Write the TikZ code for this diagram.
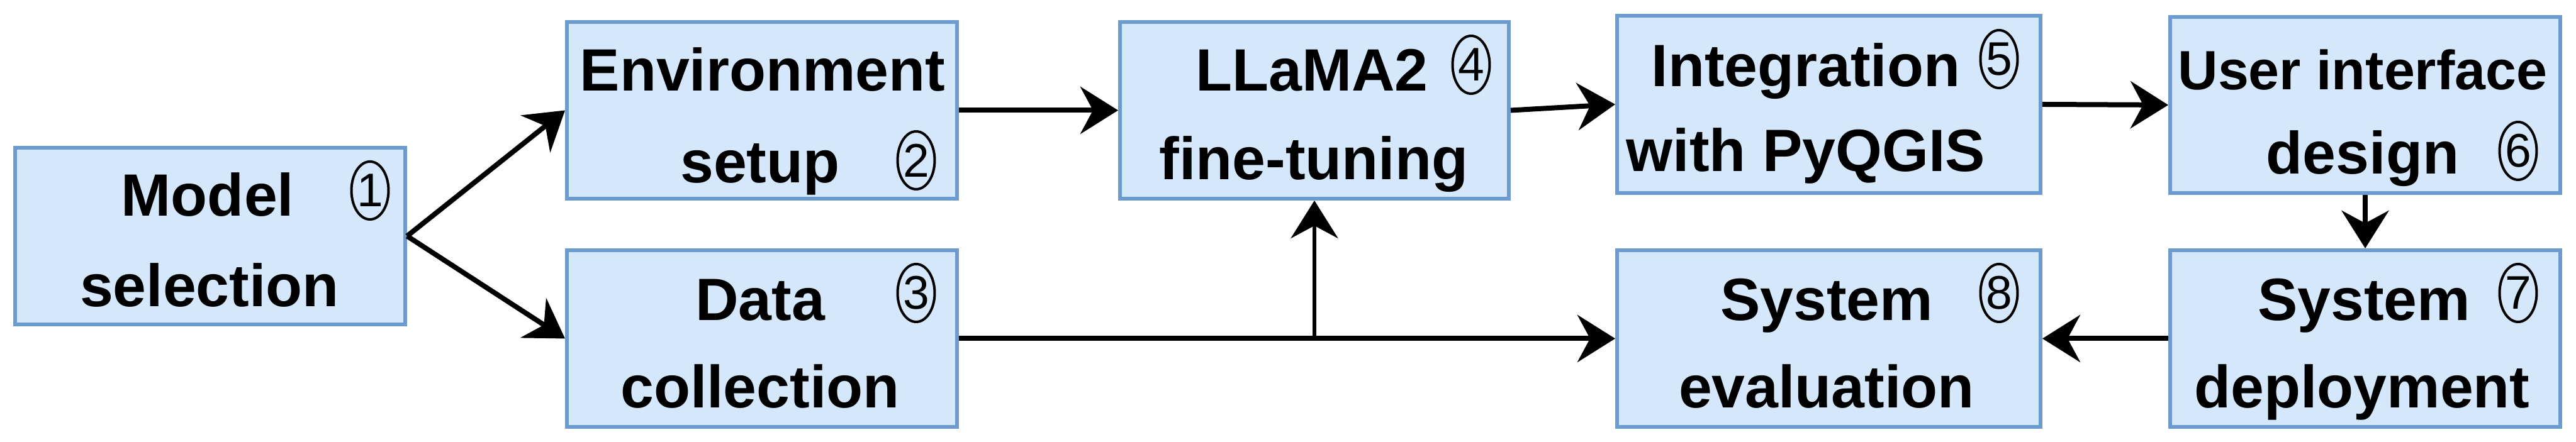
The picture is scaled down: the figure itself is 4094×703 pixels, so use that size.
\documentclass[tikz,border=0pt]{standalone}
\usepackage{fontspec}
\setmainfont{Liberation Sans}
\usetikzlibrary{shapes.geometric,arrows.meta}
\begin{document}
\begin{tikzpicture}[x=0.1pt,y=-0.1pt,
  box/.style={draw=boxline,fill=boxfill,line width=0.6pt,inner sep=0},
  lab/.style={font=\fontsize{9.5}{11}\selectfont\bfseries,anchor=mid,inner sep=0},
  num/.style={ellipse,draw,line width=0.4pt,minimum width=4.8pt,minimum height=9.2pt,inner sep=0,font=\fontsize{7.5}{8}\selectfont},
  arr/.style={line width=0.8pt,-{Stealth[length=6pt,width=7.5pt,inset=2pt]}}]
\definecolor{boxfill}{HTML}{D5E8FB}
\definecolor{boxline}{HTML}{6C9BCF}
\useasboundingbox (0,0) rectangle (4094,703);
% boxes
\node[box,minimum width=62pt,minimum height=28.1pt] (b1) at (334,375.5) {};
\node[box,minimum width=62pt,minimum height=28.1pt] (b2) at (1211,175.5) {};
\node[box,minimum width=62pt,minimum height=28.1pt] (b3) at (1211,538.5) {};
\node[box,minimum width=61.8pt,minimum height=28.1pt] (b4) at (2089,175.5) {};
\node[box,minimum width=67.3pt,minimum height=28.2pt] (b5) at (2906.5,166) {};
\node[box,minimum width=62pt,minimum height=28pt] (b6) at (3759,167) {};
\node[box,minimum width=62pt,minimum height=28.1pt] (b7) at (3759,538.5) {};
\node[box,minimum width=67.3pt,minimum height=28.1pt] (b8) at (2906.5,538.5) {};
% labels
\node[lab] (t1a) at (330,317) {Model};
\node[lab] (t1b) at (333,461) {selection};
\node[num] (n1) at (588,303) {1};
\node[lab] (t2a) at (1212,118) {Environment};
\node[lab] (t2b) at (1208,264) {setup};
\node[num] (n2) at (1456,255) {2};
\node[lab] (t3a) at (1208,483) {Data};
\node[lab] (t3b) at (1208,622) {collection};
\node[num] (n3) at (1456,466) {3};
\node[lab] (t4a) at (2085,118) {LLaMA2};
\node[lab] (t4b) at (2088,259) {fine-tuning};
\node[num] (n4) at (2338,103) {4};
\node[lab] (t5a) at (2870,111) {Integration};
\node[lab] (t5b) at (2870,246) {with PyQGIS};
\node[num] (n5) at (3177,94) {5};
\node[lab,font=\fontsize{8.8}{10}\selectfont\bfseries] (t6a) at (3755,116) {User interface};
\node[lab] (t6b) at (3755,250) {design};
\node[num] (n6) at (4002,240) {6};
\node[lab] (t7a) at (3757,483) {System};
\node[lab] (t7b) at (3754,622) {deployment};
\node[num] (n7) at (4002,466) {7};
\node[lab] (t8a) at (2903,483) {System};
\node[lab] (t8b) at (2903,622) {evaluation};
\node[num] (n8) at (3177,466) {8};
% connectors
\draw[arr] (b1.east) -- (b2.west);
\draw[arr] (b1.east) -- (b3.west);
\draw[arr] (b2.east) -- (b4.west);
\draw[arr] (b4.east) -- (b5.west);
\draw[arr] (b5.east) -- (b6.west);
\draw[arr] (b6.south) -- (b7.north);
\draw[arr] (b7.west) -- (b8.east);
\draw[arr] (b3.east) -- (b8.west);
\coordinate (j) at (b4.south |- b3.east);
\draw[arr,line width=0.6pt] (j) -- (b4.south);
\end{tikzpicture}
\end{document}
